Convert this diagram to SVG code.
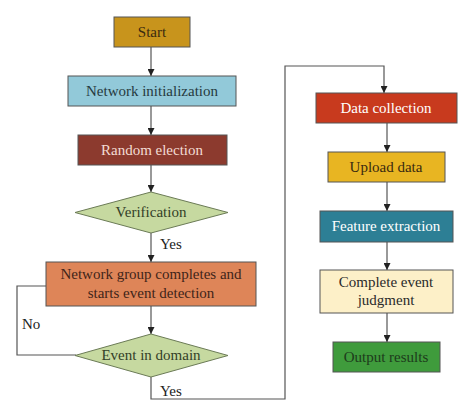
<svg xmlns="http://www.w3.org/2000/svg" width="474" height="417" viewBox="0 0 474 417">
<defs>
<marker id="ah" viewBox="0 0 10 10" refX="10" refY="5" markerWidth="7" markerHeight="7" markerUnits="userSpaceOnUse" orient="auto"><path d="M0,0 L10,5 L0,10 z" fill="#222"/></marker>
<style>
text{font-family:"Liberation Serif","Times New Roman",serif;font-size:15px;text-anchor:middle;dominant-baseline:central}
.box{stroke:#555;stroke-width:1}
.dia{fill:#c6d9a0;stroke:#6b7b56;stroke-width:1}
.c{fill:none;stroke:#555;stroke-width:1.2}
.ca{fill:none;stroke:#555;stroke-width:1.2;marker-end:url(#ah)}
.lbl{fill:#222;text-anchor:start}
</style>
</defs>
<rect width="474" height="417" fill="#fff"/>
<g id="connectors">
<line class="ca" x1="151" y1="47" x2="151" y2="76"/>
<line class="ca" x1="151" y1="106" x2="151" y2="135"/>
<line class="ca" x1="151" y1="165" x2="151" y2="192"/>
<line class="ca" x1="151" y1="233" x2="151" y2="262"/>
<line class="ca" x1="151" y1="306" x2="151" y2="334"/>
<polyline class="c" points="46,286 17,286 17,355 76,355"/>
<polyline class="ca" points="151,377 151,399 285,399 285,66 384,66 384,93"/>
<line class="ca" x1="387" y1="123" x2="387" y2="152"/>
<line class="ca" x1="387" y1="182" x2="387" y2="211"/>
<line class="ca" x1="387" y1="242" x2="387" y2="270"/>
<line class="ca" x1="387" y1="313" x2="387" y2="342"/>
<text class="lbl" x="160" y="244">Yes</text>
<text class="lbl" x="22" y="324">No</text>
<text class="lbl" x="160" y="391">Yes</text>
</g>
<g id="start"><rect class="box" x="114" y="17" width="76" height="30" fill="#c8941c"/><text x="152" y="32" fill="#3a2a10">Start</text></g>
<g id="init"><rect class="box" x="68" y="76" width="168" height="30" fill="#92c9d9"/><text x="152" y="91" fill="#263a40">Network initialization</text></g>
<g id="election"><rect class="box" x="78" y="135" width="149" height="30" fill="#8c3a2e"/><text x="152" y="150" fill="#f3dcd4">Random election</text></g>
<g id="verification"><polygon class="dia" points="151,192 228,212.5 151,233 75,212.5"/><text x="151" y="212" fill="#334027">Verification</text></g>
<g id="group"><rect class="box" x="46" y="262" width="210" height="44" fill="#de8558"/><text x="151" y="274" fill="#3e2418">Network group completes and</text><text x="151" y="293" fill="#3e2418">starts event detection</text></g>
<g id="event"><polygon class="dia" points="151,334 228,355.5 151,377 75,355.5"/><text x="151" y="355" fill="#334027">Event in domain</text></g>
<g id="collection"><rect class="box" x="316" y="93" width="141" height="30" fill="#c83a1e"/><text x="386" y="108" fill="#fff">Data collection</text></g>
<g id="upload"><rect class="box" x="328" y="152" width="117" height="30" fill="#e8b522"/><text x="386" y="167" fill="#3a2a10">Upload data</text></g>
<g id="feature"><rect class="box" x="320" y="211" width="133" height="31" fill="#2d7f95"/><text x="386" y="226" fill="#fff">Feature extraction</text></g>
<g id="judgment"><rect class="box" x="320" y="270" width="133" height="43" fill="#fdf0c8"/><text x="386" y="282" fill="#2a2a2a">Complete event</text><text x="386" y="300" fill="#2a2a2a">judgment</text></g>
<g id="output"><rect class="box" x="333" y="342" width="107" height="30" fill="#3f9b3c"/><text x="386" y="357" fill="#1d3a1b">Output results</text></g>
</svg>
